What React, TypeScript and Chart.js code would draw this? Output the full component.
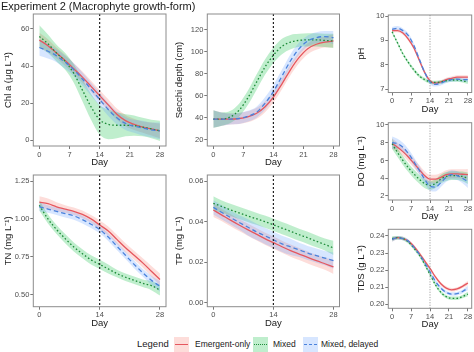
import React, { useEffect, useRef } from 'react';
import { Chart, registerables } from 'chart.js';
Chart.register(...registerables);

// ---------------- data ----------------
const days = [0, 2, 4, 6, 8, 10, 12, 14, 16, 18, 20, 22, 24, 26, 28];
const interventionDay = 14;

const seriesNames = ['Emergent-only', 'Mixed', 'Mixed, delayed'];

// Chl a (µg/L)
const chlEmergent = [54, 51, 47, 43, 38.5, 34, 29, 24, 19, 14, 10.5, 8.5, 7, 6, 5];
const chlEmergentSe = [4, 3.5, 3, 3, 3, 3, 3, 3, 3, 3, 3, 3, 3, 3.5, 4];
const chlMixed = [56, 52, 47, 42.5, 36, 27, 18, 11, 8.5, 8, 8, 7.8, 7, 6, 5];
const chlMixedSe = [6, 5, 4.5, 4.5, 5, 6, 7, 8, 8, 7, 6, 5.5, 5, 5, 5.5];
const chlDelayed = [50, 48, 45.5, 42, 38, 33, 27.5, 22, 16.5, 12, 9, 7.5, 6.5, 5.5, 5];
const chlDelayedSe = [4.5, 4, 3.5, 3.5, 3.5, 3.5, 3.5, 3.5, 3.5, 3.5, 3.5, 3.5, 4, 4, 4.5];

// Secchi depth (cm)
const secEmergent = [39, 39, 39, 39.5, 41, 44, 50, 59, 71, 84, 95, 103, 107, 109, 110];
const secEmergentSe = [8, 6, 5, 5, 5, 5, 5, 5, 5, 5, 5, 5, 5, 5, 6];
const secMixed = [39, 39, 41, 47, 58, 72, 86, 97, 105, 109, 110.5, 111, 111, 110.5, 110];
const secMixedSe = [8, 6, 5.5, 6, 6.5, 7, 7, 7, 7, 6.5, 6, 6, 6, 6, 6.5];
const secDelayed = [39, 39, 39, 39.5, 41.5, 45, 53, 64, 78, 92, 103, 110, 113, 114, 113];
const secDelayedSe = [8, 6, 5, 5, 5, 5, 5.5, 6, 6, 6, 5.5, 5, 5, 5, 6];

// TN (mg/L)
const tnEmergent = [1.11, 1.1, 1.08, 1.065, 1.05, 1.03, 1.0, 0.96, 0.92, 0.865, 0.81, 0.76, 0.71, 0.655, 0.6];
const tnEmergentSe = [0.04, 0.035, 0.03, 0.025, 0.025, 0.025, 0.025, 0.03, 0.03, 0.03, 0.03, 0.03, 0.03, 0.035, 0.04];
const tnMixed = [1.09, 1.0, 0.93, 0.87, 0.815, 0.77, 0.73, 0.7, 0.67, 0.64, 0.615, 0.595, 0.575, 0.56, 0.53];
const tnMixedSe = [0.035, 0.03, 0.03, 0.03, 0.03, 0.03, 0.03, 0.03, 0.03, 0.025, 0.025, 0.025, 0.025, 0.03, 0.035];
const tnDelayed = [1.08, 1.065, 1.05, 1.035, 1.02, 0.995, 0.965, 0.93, 0.88, 0.82, 0.76, 0.7, 0.645, 0.595, 0.555];
const tnDelayedSe = [0.03, 0.025, 0.025, 0.025, 0.025, 0.025, 0.025, 0.025, 0.025, 0.025, 0.025, 0.025, 0.025, 0.03, 0.035];

// TP (mg/L)
const tpEmergent = [0.0457, 0.0432, 0.0407, 0.0383, 0.036, 0.0338, 0.0316, 0.0296, 0.0276, 0.0257, 0.024, 0.0223, 0.0207, 0.0192, 0.0177];
const tpEmergentSe = [0.0035, 0.003, 0.003, 0.003, 0.003, 0.003, 0.003, 0.003, 0.003, 0.003, 0.003, 0.003, 0.003, 0.003, 0.0035];
const tpMixed = [0.049, 0.0474, 0.0458, 0.0443, 0.0428, 0.0414, 0.04, 0.0384, 0.0368, 0.0352, 0.0335, 0.032, 0.0303, 0.0287, 0.027];
const tpMixedSe = [0.0035, 0.003, 0.003, 0.003, 0.003, 0.003, 0.003, 0.003, 0.003, 0.003, 0.003, 0.003, 0.003, 0.003, 0.0035];
const tpDelayed = [0.047, 0.0445, 0.042, 0.0396, 0.0373, 0.035, 0.033, 0.031, 0.029, 0.0275, 0.026, 0.0245, 0.0232, 0.022, 0.0208];
const tpDelayedSe = [0.0035, 0.0035, 0.0035, 0.0035, 0.004, 0.004, 0.004, 0.004, 0.004, 0.004, 0.0035, 0.0035, 0.0035, 0.0035, 0.004];

// pH
const phEmergent = [9.4, 9.4, 9.3, 9.05, 8.7, 8.2, 7.7, 7.35, 7.25, 7.3, 7.4, 7.45, 7.5, 7.5, 7.5];
const phEmergentSe = [0.08, 0.07, 0.07, 0.07, 0.07, 0.07, 0.07, 0.07, 0.07, 0.07, 0.07, 0.07, 0.07, 0.07, 0.08];
const phMixed = [9.35, 8.9, 8.45, 8.1, 7.8, 7.55, 7.4, 7.3, 7.28, 7.3, 7.35, 7.38, 7.38, 7.35, 7.3];
const phMixedSe = [0.08, 0.07, 0.07, 0.07, 0.07, 0.07, 0.07, 0.07, 0.07, 0.07, 0.07, 0.07, 0.07, 0.07, 0.08];
const phDelayed = [9.45, 9.5, 9.4, 9.2, 8.8, 8.25, 7.7, 7.3, 7.2, 7.25, 7.35, 7.4, 7.42, 7.4, 7.4];
const phDelayedSe = [0.1, 0.09, 0.09, 0.09, 0.09, 0.09, 0.09, 0.09, 0.09, 0.09, 0.09, 0.09, 0.09, 0.09, 0.1];

// DO (mg/L)
const doEmergent = [7.9, 7.5, 7.0, 6.4, 5.7, 5.0, 4.3, 3.9, 3.9, 4.1, 4.4, 4.5, 4.5, 4.45, 4.4];
const doEmergentSe = [0.6, 0.5, 0.5, 0.5, 0.5, 0.5, 0.5, 0.5, 0.5, 0.5, 0.5, 0.5, 0.5, 0.55, 0.65];
const doMixed = [7.9, 6.9, 6.0, 5.2, 4.5, 3.9, 3.4, 3.2, 3.4, 3.9, 4.2, 4.3, 4.3, 4.2, 4.0];
const doMixedSe = [0.6, 0.5, 0.5, 0.5, 0.5, 0.5, 0.5, 0.5, 0.5, 0.5, 0.5, 0.5, 0.5, 0.55, 0.65];
const doDelayed = [8.0, 7.9, 7.5, 6.8, 5.9, 4.9, 3.9, 3.1, 3.0, 3.5, 4.1, 4.4, 4.3, 4.0, 3.6];
const doDelayedSe = [0.7, 0.55, 0.5, 0.5, 0.5, 0.5, 0.5, 0.5, 0.5, 0.5, 0.5, 0.5, 0.5, 0.55, 0.7];

// TDS (g/L)
const tdsEmergent = [0.238, 0.239, 0.2385, 0.237, 0.234, 0.23, 0.2255, 0.221, 0.216, 0.212, 0.2095, 0.2085, 0.209, 0.2105, 0.2125];
const tdsEmergentSe = [0.0013, 0.001, 0.001, 0.001, 0.001, 0.001, 0.001, 0.001, 0.001, 0.001, 0.001, 0.001, 0.001, 0.001, 0.0013];
const tdsMixed = [0.2385, 0.239, 0.2385, 0.2365, 0.233, 0.229, 0.2235, 0.2175, 0.2115, 0.207, 0.2045, 0.2035, 0.2035, 0.2045, 0.206];
const tdsMixedSe = [0.0013, 0.001, 0.001, 0.001, 0.001, 0.001, 0.001, 0.001, 0.001, 0.001, 0.001, 0.001, 0.001, 0.001, 0.0013];
const tdsDelayed = [0.238, 0.239, 0.2385, 0.237, 0.2335, 0.2295, 0.2245, 0.219, 0.2135, 0.2095, 0.207, 0.206, 0.2062, 0.2075, 0.2095];
const tdsDelayedSe = [0.0013, 0.001, 0.001, 0.001, 0.001, 0.001, 0.001, 0.001, 0.001, 0.001, 0.001, 0.001, 0.001, 0.001, 0.0013];

// tick values
const xTicksFull = [0, 7, 14, 21, 28];
const xTicksSparse = [0, 14, 28];
const chlTicks = [0, 20, 40, 60];
const secTicks = [20, 40, 60, 80, 100, 120];
const tnTicks = [0.5, 0.75, 1.0, 1.25];
const tnLabels = ['0.50', '0.75', '1.00', '1.25'];
const tpTicks = [0, 0.02, 0.04, 0.06];
const tpLabels = ['0.00', '0.02', '0.04', '0.06'];
const phTicks = [7, 8, 9, 10];
const doTicks = [2, 4, 6, 8, 10];
const tdsTicks = [0.2, 0.21, 0.22, 0.23, 0.24];
const tdsLabels = ['0.20', '0.21', '0.22', '0.23', '0.24'];

// ---------------- styles ----------------
const FONT = '"Liberation Sans", Arial, Helvetica, sans-serif';
const LINE_COLORS = ['#E5575F', '#1E8C3A', '#4A82DC'];
const FILL_COLORS = ['rgba(248,118,109,0.25)', 'rgba(0,186,56,0.25)', 'rgba(97,156,255,0.25)'];
const DASHES = [[], [1.6, 2.2], [4.5, 3]];

type Panel = {
  canvas: [number, number, number, number];
  plot: [number, number, number, number];
  yMin: number; yMax: number;
  yTicks: number[]; yLabels?: string[];
  xTicks: number[];
  yTitle: string;
  means: number[][]; ses: number[][];
  light?: boolean;
};

const panels: Panel[] = [
  { canvas: [0, 8, 170, 168], plot: [33.3, 14, 166, 146], yMin: -3.2, yMax: 68.1, yTicks: chlTicks, xTicks: xTicksFull,
    yTitle: 'Chl a (\u03bcg L\u207b\u00b9)', means: [chlEmergent, chlMixed, chlDelayed], ses: [chlEmergentSe, chlMixedSe, chlDelayedSe] },
  { canvas: [171, 8, 345, 168], plot: [207.3, 14, 339.5, 146], yMin: 14.5, yMax: 134.5, yTicks: secTicks, xTicks: xTicksFull,
    yTitle: 'Secchi depth (cm)', means: [secEmergent, secMixed, secDelayed], ses: [secEmergentSe, secMixedSe, secDelayedSe] },
  { canvas: [0, 169, 170, 329], plot: [33.3, 175, 166, 306.7], yMin: 0.4208, yMax: 1.2896, yTicks: tnTicks, yLabels: tnLabels, xTicks: xTicksSparse,
    yTitle: 'TN (mg L\u207b\u00b9)', means: [tnEmergent, tnMixed, tnDelayed], ses: [tnEmergentSe, tnMixedSe, tnDelayedSe] },
  { canvas: [171, 169, 345, 329], plot: [207.3, 175, 339.5, 306.7], yMin: -0.00197, yMax: 0.06296, yTicks: tpTicks, yLabels: tpLabels, xTicks: xTicksSparse,
    yTitle: 'TP (mg L\u207b\u00b9)', means: [tpEmergent, tpMixed, tpDelayed], ses: [tpEmergentSe, tpMixedSe, tpDelayedSe] },
  { canvas: [353, 8, 474, 115], plot: [388.3, 15, 471.7, 92.5], yMin: 6.869, yMax: 10.041, yTicks: phTicks, xTicks: xTicksFull,
    yTitle: 'pH', means: [phEmergent, phMixed, phDelayed], ses: [phEmergentSe, phMixedSe, phDelayedSe], light: true },
  { canvas: [353, 116, 474, 222], plot: [388.3, 122.7, 471.7, 200], yMin: 1.549, yMax: 10.259, yTicks: doTicks, xTicks: xTicksFull,
    yTitle: 'DO (mg L\u207b\u00b9)', means: [doEmergent, doMixed, doDelayed], ses: [doEmergentSe, doMixedSe, doDelayedSe], light: true },
  { canvas: [353, 223, 474, 330], plot: [388.3, 229.3, 471.7, 308.3], yMin: 0.19766, yMax: 0.24392, yTicks: tdsTicks, yLabels: tdsLabels, xTicks: xTicksFull,
    yTitle: 'TDS (g L\u207b\u00b9)', means: [tdsEmergent, tdsMixed, tdsDelayed], ses: [tdsEmergentSe, tdsMixedSe, tdsDelayedSe], light: true },
];

const panelDecor = {
  id: 'panelDecor',
  afterDatasetsDraw(chart: any, _args: any, opts: any) {
    const { ctx, chartArea: a, scales } = chart;
    const px = scales.x.getPixelForValue(interventionDay);
    ctx.save();
    ctx.beginPath();
    ctx.setLineDash(opts.light ? [1.2, 1.4] : [2, 2]);
    ctx.strokeStyle = opts.light ? '#8a8a8a' : '#222';
    ctx.lineWidth = opts.light ? 0.8 : 1.2;
    ctx.moveTo(px, a.top);
    ctx.lineTo(px, a.bottom);
    ctx.stroke();
    ctx.setLineDash([]);
    ctx.strokeStyle = '#8c8c8c';
    ctx.lineWidth = 1;
    ctx.strokeRect(a.left, a.top, a.right - a.left, a.bottom - a.top);
    ctx.restore();
  },
};

function buildConfig(p: Panel): any {
  const [cl, ct, cr, cb] = p.canvas;
  const [pl, pt, pr, pb] = p.plot;
  const lines: any[] = [];
  const ribbons: any[] = [];
  for (let s = 2; s >= 0; s--) {
    lines.push({
      label: seriesNames[s],
      data: days.map((d, i) => ({ x: d, y: p.means[s][i] })),
      borderColor: LINE_COLORS[s],
      borderWidth: 1.3,
      borderDash: DASHES[s],
      pointRadius: 0,
      fill: false,
      cubicInterpolationMode: 'monotone',
    });
  }
  for (let s = 2; s >= 0; s--) {
    ribbons.push({
      label: seriesNames[s] + ' lo',
      data: days.map((d, i) => ({ x: d, y: p.means[s][i] - p.ses[s][i] })),
      borderWidth: 0,
      borderColor: 'rgba(0,0,0,0)',
      pointRadius: 0,
      fill: false,
      cubicInterpolationMode: 'monotone',
    });
    ribbons.push({
      label: seriesNames[s] + ' hi',
      data: days.map((d, i) => ({ x: d, y: p.means[s][i] + p.ses[s][i] })),
      borderWidth: 0,
      borderColor: 'rgba(0,0,0,0)',
      backgroundColor: FILL_COLORS[s],
      pointRadius: 0,
      fill: '-1',
      cubicInterpolationMode: 'monotone',
    });
  }
  const tickFont = { family: FONT, size: 7.5 };
  const titleFont = { family: FONT, size: 9.5 };
  return {
    type: 'line',
    data: { datasets: [...lines, ...ribbons] },
    plugins: [panelDecor],
    options: {
      responsive: false,
      animation: false,
      devicePixelRatio: 1,
      layout: { padding: { left: 0, top: pt - ct, right: cr - pr, bottom: 0 } },
      plugins: {
        legend: { display: false },
        tooltip: { enabled: false },
        filler: { drawTime: 'beforeDatasetsDraw' },
        panelDecor: { light: !!p.light },
      },
      scales: {
        x: {
          type: 'linear',
          min: -1.4,
          max: 29.4,
          afterBuildTicks: (sc: any) => { sc.ticks = p.xTicks.map((v) => ({ value: v })); },
          afterFit: (sc: any) => { sc.height = cb - pb; sc.paddingLeft = 0; sc.paddingRight = 0; },
          ticks: { font: tickFont, color: '#4d4d4d', padding: 1, maxRotation: 0, autoSkip: false, callback: (v: any) => String(v) },
          grid: { drawOnChartArea: false, drawTicks: true, tickLength: 3, color: '#555', lineWidth: 0.8 },
          border: { display: false },
          title: { display: true, text: 'Day', font: titleFont, color: '#1a1a1a', padding: { top: 0, bottom: 0 } },
        },
        y: {
          type: 'linear',
          min: p.yMin,
          max: p.yMax,
          afterBuildTicks: (sc: any) => { sc.ticks = p.yTicks.map((v) => ({ value: v })); },
          afterFit: (sc: any) => { sc.width = pl - cl; sc.paddingTop = 0; sc.paddingBottom = 0; },
          ticks: {
            font: tickFont, color: '#4d4d4d', padding: 1, autoSkip: false,
            callback: (v: any) => {
              const idx = p.yTicks.findIndex((t) => Math.abs(t - v) < 1e-9);
              return p.yLabels && idx >= 0 ? p.yLabels[idx] : String(v);
            },
          },
          grid: { drawOnChartArea: false, drawTicks: true, tickLength: 3, color: '#555', lineWidth: 0.8 },
          border: { display: false },
          title: { display: true, text: p.yTitle, font: titleFont, color: '#1a1a1a', padding: { top: 3, bottom: 0 } },
        },
      },
    },
  };
}

function PanelChart({ p }: { p: Panel }) {
  const ref = useRef<HTMLCanvasElement | null>(null);
  useEffect(() => {
    const chart = new Chart(ref.current as HTMLCanvasElement, buildConfig(p));
    return () => chart.destroy();
  }, []);
  const [l, t, r, b] = p.canvas;
  return (
    <canvas ref={ref} width={r - l} height={b - t}
      style={{ position: 'absolute', left: l, top: t, width: r - l, height: b - t }} />
  );
}

function LegendKey({ left, idx }: { left: number; idx: number }) {
  const style = idx === 0 ? 'solid' : idx === 1 ? 'dotted' : 'dashed';
  return (
    <div style={{ position: 'absolute', left, top: 337, width: 15, height: 15, background: FILL_COLORS[idx] }}>
      <div style={{ position: 'absolute', left: 1, top: 7, width: 13, borderTop: `1.2px ${style} ${LINE_COLORS[idx]}` }} />
    </div>
  );
}

export default function App() {
  const textStyle: any = { position: 'absolute', fontFamily: FONT, color: '#1a1a1a', whiteSpace: 'nowrap' };
  return (
    <div style={{ position: 'fixed', left: 0, top: 0, width: 474, height: 352, background: '#fff', overflow: 'hidden' }}>
      {panels.map((p, i) => <PanelChart key={i} p={p} />)}
      <div style={{ ...textStyle, left: 1, top: -1, fontSize: 11, lineHeight: '14px' }}>Experiment 2 (Macrophyte growth-form)</div>
      <div style={{ ...textStyle, left: 137, top: 337, fontSize: 9.5, lineHeight: '14px' }}>Legend</div>
      <LegendKey left={174} idx={0} />
      <div style={{ ...textStyle, left: 195, top: 338, fontSize: 8.5, lineHeight: '12px' }}>{seriesNames[0]}</div>
      <LegendKey left={253} idx={1} />
      <div style={{ ...textStyle, left: 273, top: 338, fontSize: 8.5, lineHeight: '12px' }}>{seriesNames[1]}</div>
      <LegendKey left={303} idx={2} />
      <div style={{ ...textStyle, left: 321, top: 338, fontSize: 8.5, lineHeight: '12px' }}>{seriesNames[2]}</div>
    </div>
  );
}
